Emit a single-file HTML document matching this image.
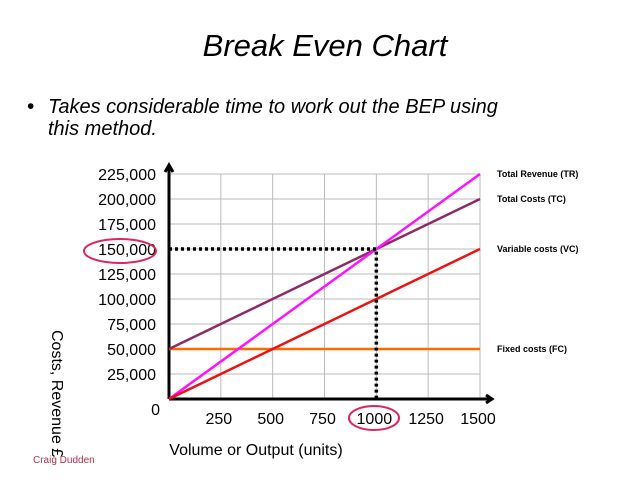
<!DOCTYPE html>
<html><head><meta charset="utf-8"><style>
body{margin:0;background:#fff;width:638px;height:478px;overflow:hidden;font-family:"Liberation Sans",sans-serif}
</style></head><body>
<svg width="638" height="478" xmlns="http://www.w3.org/2000/svg" font-family="Liberation Sans, sans-serif">
<text x="325" y="56" font-size="31" font-style="italic" text-anchor="middle">Break Even Chart</text>
<text x="27" y="113" font-size="21">•</text>
<text x="48" y="113" font-size="20" font-style="italic">Takes considerable time to work out the BEP using</text>
<text x="48" y="135" font-size="20" font-style="italic">this method.</text>
<g id="grid"></g>
<g id="ylabels"></g>
<g id="xlabels"></g>
<g id="lines"></g>
<g id="legend"></g>
<text x="256" y="455" font-size="16" text-anchor="middle">Volume or Output (units)</text>
<text transform="translate(52,330) rotate(90)" font-size="16">Costs, Revenue £</text>
<text x="33" y="463" font-size="10" fill="#b03050">Craig Dudden</text>
<ellipse cx="120" cy="251" rx="36" ry="12" fill="none" stroke="#e0245e" stroke-width="2"/>
<ellipse cx="374" cy="418" rx="25" ry="12" fill="none" stroke="#e0245e" stroke-width="2"/>
</svg>
<script>
const xTicks=[250,500,750,1000,1250,1500];
const yTicks=[0,25000,50000,75000,100000,125000,150000,175000,200000,225000];
const seriesNames=["Total Revenue (TR)","Total Costs (TC)","Variable costs (VC)","Fixed costs (FC)"];
const seriesStart=[0,50000,0,50000];
const seriesEnd=[225000,200000,150000,50000];
const seriesColors=["#ff10ff","#8e2a66","#ee1111","#ff6a00"];
const bepUnits=1000, bepValue=150000;
const NS="http://www.w3.org/2000/svg";
const X=v=>169+v/1500*311, Y=v=>399-v/225000*225;
function mk(p,t,a){const e=document.createElementNS(NS,t);for(const k in a)e.setAttribute(k,a[k]);document.getElementById(p).appendChild(e);return e;}
xTicks.forEach(t=>{const l=mk('grid','line',{x1:X(t),x2:X(t),y1:Y(225000),y2:Y(0),stroke:'#bbb','stroke-width':1});


const tx=mk('xlabels','text',{x:X(t)-2,y:424,'font-size':16,'text-anchor':'middle'});tx.textContent=t;

});
yTicks.forEach(t=>{if(t>0){const l=mk('grid','line',{x1:X(0),x2:X(1500),y1:Y(t),y2:Y(t),stroke:'#bbb','stroke-width':1});

}
const tx=mk('ylabels','text',{x:t===0?160:156,y:Y(t)+(t===0?16:6),'font-size':16,'text-anchor':'end'});tx.textContent=t===0?'0':t.toLocaleString('en-US');

});
const ax=mk('grid','path',{d:`M${X(0)},${Y(0)-0} L${X(0)},166 M${X(0)-4},172 L${X(0)},165 L${X(0)+4},172 M${X(0)},${Y(0)} L${X(1500)+12},${Y(0)} M${X(1500)+6},${Y(0)-4} L${X(1500)+12},${Y(0)} L${X(1500)+6},${Y(0)+4}`,stroke:'#000','stroke-width':3,fill:'none'});


const order=[3,1,0,2];
order.forEach(i=>{const l=mk('lines','line',{x1:X(0),y1:Y(seriesStart[i]),x2:X(1500),y2:Y(seriesEnd[i]),stroke:seriesColors[i],'stroke-width':2.5});


const tx=mk('legend','text',{x:497,y:Y(seriesEnd[i])+3,'font-size':9,'font-weight':'bold'});tx.textContent=seriesNames[i];

});
const d=mk('lines','path',{d:`M${X(0)},${Y(bepValue)} L${X(bepUnits)},${Y(bepValue)} L${X(bepUnits)},${Y(0)}`,stroke:'#000','stroke-width':3.5,'stroke-dasharray':'3 3',fill:'none'});


</script>
</body></html>
